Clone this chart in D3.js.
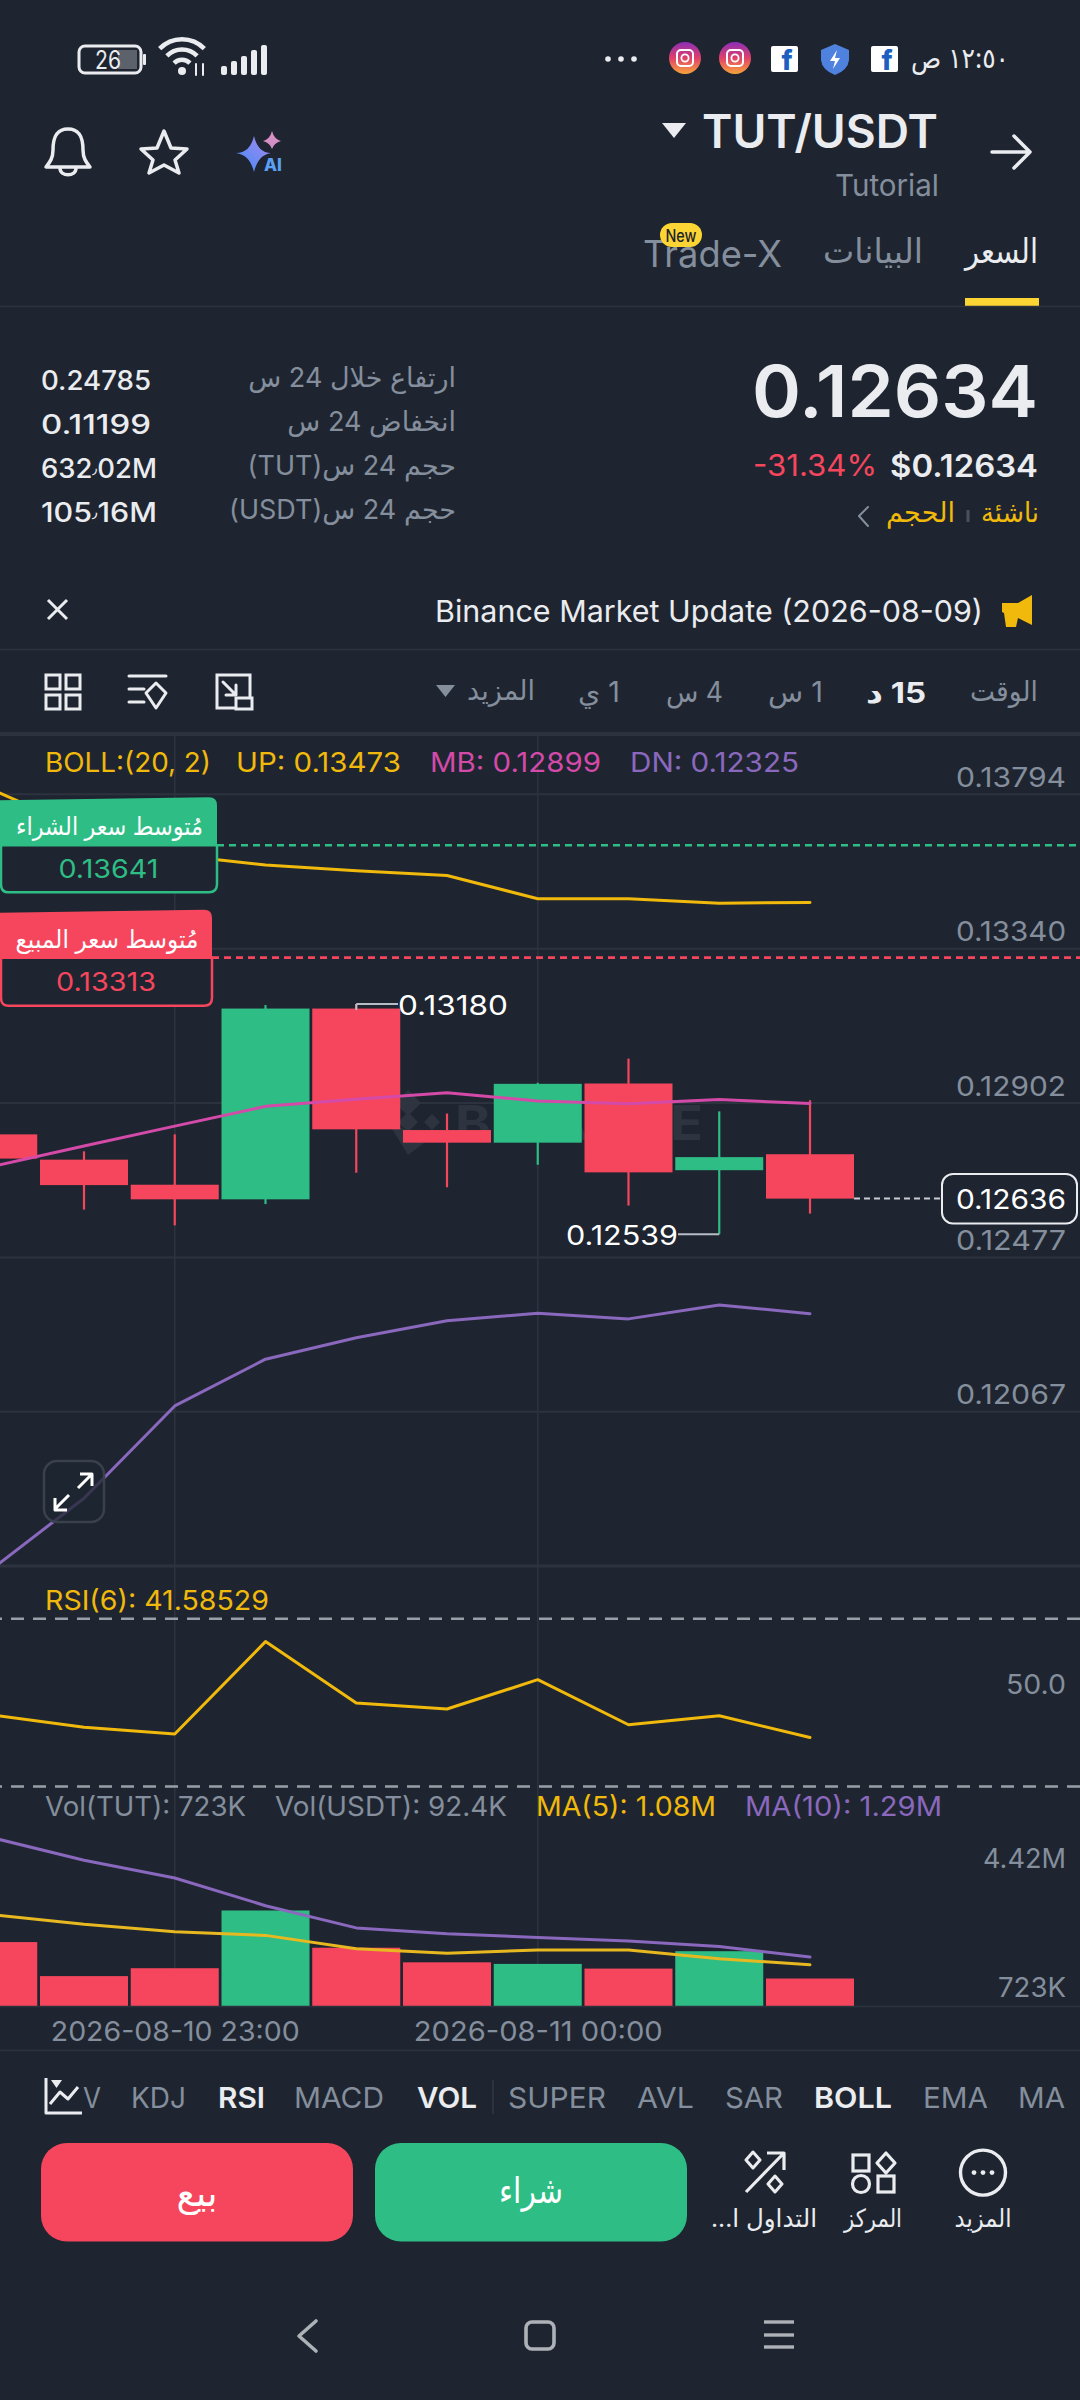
<!DOCTYPE html>
<html><head><meta charset="utf-8">
<script src="https://cdn.jsdelivr.net/npm/d3@7"></script>
<style>
html,body{margin:0;padding:0;background:#1e2530}
svg{display:block}
text{font-family:Inter,"DejaVu Sans",sans-serif}
</style></head><body><svg id="c" width="1080" height="2400" viewBox="0 0 1080 2400"></svg>
<script>
// ---- data ----
const candleTimes=[0,1,2,3,4,5,6,7,8,9].map(i=>new Date(2026,7,10,22,30+15*i));
const opens =[0.12813,0.12743,0.12674,0.12634,0.13167,0.12825,0.12790,0.12955,0.12714,0.12758];
const closes=[0.12746,0.12673,0.12634,0.13167,0.12827,0.12790,0.12954,0.12708,0.12750,0.12636];
const highs =[0.12813,0.12766,0.12813,0.13177,0.13180,0.12871,0.12957,0.13025,0.12877,0.12908];
const lows  =[0.12746,0.12606,0.12563,0.12621,0.12707,0.12667,0.12729,0.12617,0.12539,0.12595];
const bollUp=[0.13805,0.13686,0.13612,0.13583,0.13566,0.13552,0.13484,0.13484,0.13471,0.13473];
const bollMb=[0.12725,0.12781,0.12836,0.12891,0.12911,0.12929,0.12906,0.12898,0.12910,0.12899];
const bollDn=[0.11664,0.11842,0.12081,0.12204,0.12261,0.12306,0.12326,0.12311,0.12348,0.12325];
const rsi6  =[46.9,43.99,42.39,64.44,49.8,48.36,55.36,44.61,46.76,41.58529];
const volumes=[1.674,0.786,0.992,2.499,1.527,1.146,1.104,0.982,1.436,0.723];
const volMa5 =[2.389,2.138,1.943,1.849,1.499,1.384,1.467,1.467,1.240,1.084];
const volMa10=[4.392,3.809,3.347,2.624,2.044,1.890,1.796,1.705,1.559,1.282];
const priceTicks=[0.13794,0.13340,0.12902,0.12477,0.12067];
const timeTicks=[new Date(2026,7,10,23,0),new Date(2026,7,11,0,0)];
const rsiGuides=[70,30];
const avgBuy=0.13641, avgSell=0.13313, lastPrice=0.12636, hiMark=0.13180, loMark=0.12539;
const volTicks=[4.42,0.723];
const statValues=["0.24785","0.11199","632٫02M","105٫16M"];
const statLabels=["ارتفاع خلال 24 س","انخفاض 24 س","حجم 24 س(TUT)","حجم 24 س(USDT)"];
const indicatorNames=["V","KDJ","RSI","MACD","VOL","SUPER","AVL","SAR","BOLL","EMA","MA"];
const indicatorActive=["RSI","VOL","BOLL"];

// ---- palette ----
const BG="#1e2530",GRID="#2c333e",GREY="#848e9c",WHITE="#eaecef",GREEN="#2ebd85",RED="#f6465d",
      YEL="#f0b90b",PINK="#d44aa8",PURP="#8a68bd";
const svg=d3.select("#c");
svg.append("rect").attr("width",1080).attr("height",2400).attr("fill",BG);

function T(g,s,x,y,o={}){
  const t=g.append("text").attr("x",x).attr("y",y).text(s)
    .attr("font-size",o.size||27).attr("fill",o.fill||WHITE)
    .attr("font-weight",o.w||400).attr("text-anchor",o.a||"start")
    .attr("dominant-baseline","central");
  if(o.rtl) t.attr("direction","rtl").attr("text-anchor","start");
  if(o.len) t.attr("textLength",o.len).attr("lengthAdjust","spacingAndGlyphs");
  if(o.op) t.attr("opacity",o.op);
  return t;
}
function L(g,x1,y1,x2,y2,c,w,dash){
  const l=g.append("line").attr("x1",x1).attr("y1",y1).attr("x2",x2).attr("y2",y2).attr("stroke",c).attr("stroke-width",w);
  if(dash) l.attr("stroke-dasharray",dash);
  return l;
}
function P(g,d,o={}){
  return g.append("path").attr("d",d).attr("fill",o.fill||"none").attr("stroke",o.stroke||"none")
    .attr("stroke-width",o.w||0).attr("stroke-linecap",o.cap||"round").attr("stroke-linejoin","round");
}

// ---- scales ----
const x=d3.scaleTime().domain([candleTimes[0],candleTimes[9]]).range([-6.75,810]);
const y=d3.scaleLog().domain([priceTicks[0],priceTicks[4]]).range([793.8,1411.3]);
const yR=d3.scaleLinear().domain([70,30]).range([1618.3,1786]);
const yV=d3.scaleLinear().domain([0,1]).range([2006.2,1967.9]);
const BODY=88;

// ---- status bar ----
const st=svg.append("g");
st.append("rect").attr("x",79).attr("y",46).attr("width",62).attr("height",27).attr("rx",6).attr("fill","none").attr("stroke",WHITE).attr("stroke-width",3);
st.append("rect").attr("x",118).attr("y",50).attr("width",19).attr("height",19).attr("fill","#5b626c");
st.append("rect").attr("x",143).attr("y",54).attr("width",3).attr("height",11).attr("rx",1).attr("fill",WHITE);
T(st,"26",108,60,{size:25,a:"middle",len:26});
[31,21,11].forEach(r=>P(st,`M${182-r*.72} ${71-r*.72} A${r} ${r} 0 0 1 ${182+r*.72} ${71-r*.72}`,{stroke:WHITE,w:4.5,cap:"butt"}));
st.append("circle").attr("cx",182).attr("cy",71).attr("r",4).attr("fill",WHITE);
P(st,"M196 64 L196 75 M203 64 L203 75",{stroke:WHITE,w:2});
[[221,66,9],[231,61,14],[241,56,19],[251,50,25],[261,45,30]].forEach(([a,b,h])=>st.append("rect").attr("x",a).attr("y",b).attr("width",6).attr("height",h).attr("rx",2).attr("fill",WHITE));
[608,621,634].forEach(a=>st.append("circle").attr("cx",a).attr("cy",59).attr("r",2.8).attr("fill",WHITE));
const defs=svg.append("defs");
const ig=defs.append("linearGradient").attr("id","ig").attr("x1",0).attr("y1",0).attr("x2",0).attr("y2",1);
ig.append("stop").attr("offset",0).attr("stop-color","#8a2fb8");ig.append("stop").attr("offset",.5).attr("stop-color","#e0406a");ig.append("stop").attr("offset",1).attr("stop-color","#f7a53a");
[685,735].forEach(a=>{
  st.append("ellipse").attr("cx",a).attr("cy",58).attr("rx",16).attr("ry",16).attr("fill","url(#ig)");
  st.append("rect").attr("x",a-8).attr("y",50).attr("width",16).attr("height",16).attr("rx",4).attr("fill","none").attr("stroke","#fff").attr("stroke-width",2);
  st.append("circle").attr("cx",a).attr("cy",58).attr("r",3.6).attr("fill","none").attr("stroke","#fff").attr("stroke-width",1.8);
});
[771,871].forEach(a=>{
  st.append("rect").attr("x",a).attr("y",46).attr("width",27).attr("height",26).attr("rx",2).attr("fill","#fff");
  T(st,"f",a+16,60,{size:27,fill:"#1c5fc0",w:800,a:"middle"});
});
P(st,"M835 44 L849 50 L849 60 Q848 70 835 75 Q822 70 821 60 L821 50 Z",{fill:"#4f82de"});
P(st,"M837 50 L830 61 L835 61 L833 69 L840 58 L835 58 Z",{fill:"#fff"});
T(st,"١٢:٥٠ ص",1009,58,{size:28,rtl:true,fill:WHITE,len:98});

// ---- header ----
const hd=svg.append("g");
P(hd,"M662 123 L686 123 L674 138 Z",{fill:WHITE});
T(hd,"TUT/USDT",938,131,{size:46,w:600,a:"end",len:236});
P(hd,"M992 152 L1030 152 M1014 136 L1030 152 L1014 168",{stroke:WHITE,w:3.5});
T(hd,"Tutorial",939,185,{size:30,fill:GREY,a:"end",len:104});
P(hd,"M68 129 C55 129 53 140 53 150 C53 158 50 162 46 167 L90 167 C86 162 83 158 83 150 C83 140 81 129 68 129 Z",{stroke:WHITE,w:3.5});
P(hd,"M60 168 C60 177 76 177 76 168",{stroke:WHITE,w:3.5});
P(hd,"M164 131 L171 148 L187 149 L175 160 L179 173 L164 165 L149 173 L153 160 L141 149 L157 148 Z",{stroke:WHITE,w:3.5});
const ai=defs.append("linearGradient").attr("id","ai").attr("x1",0).attr("y1",1).attr("x2",1).attr("y2",0);
ai.append("stop").attr("offset",0).attr("stop-color","#3f8cf5");ai.append("stop").attr("offset",1).attr("stop-color","#a989f0");
P(hd,"M254 136 Q258 153 271 153 Q258 155 254 172 Q250 155 236 153 Q250 153 254 136 Z",{fill:"url(#ai)"});
P(hd,"M272 131 Q274 139 281 141 Q274 143 272 149 Q270 143 263 141 Q270 139 272 131 Z",{fill:"#d48fc4"});
T(hd,"AI",273,165,{size:17,w:800,fill:"#5aa0f5",a:"middle"});
T(hd,"السعر",1038,250,{size:34,rtl:true,fill:WHITE,len:73});
T(hd,"البيانات",923,250,{size:34,rtl:true,fill:GREY,len:100});
T(hd,"Trade-X",782,253,{size:37,a:"end",fill:GREY,len:139});
hd.append("rect").attr("x",660).attr("y",223).attr("width",42).attr("height",24).attr("rx",12).attr("fill","#fcd535");
T(hd,"New",681,236,{size:17,fill:"#1e2329",a:"middle",w:500,len:31});
hd.append("rect").attr("x",965).attr("y",298).attr("width",74).attr("height",8).attr("fill","#fcd535");
L(hd,0,306.5,1080,306.5,GRID,1.5);

// ---- ticker ----
const tk=svg.append("g");
T(tk,"0.12634",1038,390,{size:72,w:600,a:"end",len:286});
T(tk,"-31.34%",877,465,{size:30,a:"end",fill:RED,len:124});
T(tk,"$0.12634",1038,465,{size:31,a:"end",w:600,len:148});
T(tk,"ناشئة",1039,512,{size:28,rtl:true,fill:YEL,len:58});
T(tk,"الحجم",955,512,{size:28,rtl:true,fill:YEL,len:69});
L(tk,968,510,968,522,"#4a515c",3);
P(tk,"M868 507 L859 516 L868 526",{stroke:GREY,w:2});
[380,424,468,512].forEach((yy,i)=>{
  const t=T(tk,"",41,yy,{size:27,w:500,fill:WHITE,len:i<2?110:116});
  statValues[i].split(/(٫)/).forEach(p=>{
    const s=t.append("tspan").text(p);
    if(p==="٫") s.attr("font-size",15);
  });
  T(tk,statLabels[i],456,yy-3,{size:27,rtl:true,fill:GREY});
});

// ---- announcement ----
const an=svg.append("g");
P(an,"M48 600 L67 619 M67 600 L48 619",{stroke:WHITE,w:3,cap:"butt"});
T(an,"Binance Market Update (2026-08-09)",983,611,{size:30,a:"end",len:548});
P(an,"M1032 595 L1032 625 L1018 618 L1016 627 L1006 627 L1004 613 L1002 612 L1002 603 L1018 603 Z",{fill:YEL});
L(an,0,649.5,1080,649.5,GRID,1.5);

// ---- chart toolbar ----
const tb=svg.append("g");
[[46,675],[66,675],[46,695],[66,695]].forEach(([a,b])=>tb.append("rect").attr("x",a).attr("y",b).attr("width",14).attr("height",14).attr("fill","none").attr("stroke",WHITE).attr("stroke-width",3));
P(tb,"M129 676 L166 676 M129 689 L144 689 M129 702 L144 702",{stroke:WHITE,w:3});
P(tb,"M156 683 L166 693 L156 708 L146 693 Z",{stroke:WHITE,w:3});
tb.append("rect").attr("x",217).attr("y",675).attr("width",33).attr("height",33).attr("fill","none").attr("stroke",WHITE).attr("stroke-width",3);
P(tb,"M223 682 L236 695 M236 685 L236 695 L226 695",{stroke:WHITE,w:3});
tb.append("rect").attr("x",236).attr("y",698).attr("width",16).attr("height",11).attr("fill",BG).attr("stroke",WHITE).attr("stroke-width",3);
T(tb,"الوقت",1038,691,{size:28,rtl:true,fill:GREY,len:68});
T(tb,"15 د",926,692,{size:29,rtl:true,w:700,fill:WHITE,len:60});
T(tb,"1 س",823,692,{size:28,rtl:true,fill:GREY,len:55});
T(tb,"4 س",723,692,{size:28,rtl:true,fill:GREY,len:57});
T(tb,"1 ي",620,692,{size:28,rtl:true,fill:GREY,len:42});
T(tb,"المزيد",535,690,{size:28,rtl:true,fill:GREY,len:68});
P(tb,"M436 685 L455 685 L445.5 697 Z",{fill:GREY});
L(tb,0,734,1080,734,GRID,4);

// ---- chart plumbing ----
const clip=defs.append("clipPath").attr("id","pane");
clip.append("rect").attr("x",0).attr("y",734).attr("width",1080).attr("height",832);
const ch=svg.append("g");

// time axis with the vertical grid
const gx=ch.append("g").attr("transform","translate(0,2032)")
  .call(d3.axisBottom(x).tickValues(timeTicks).tickSize(0).tickFormat(d3.timeFormat("%Y-%m-%d %H:%M")));
gx.select(".domain").remove();
gx.selectAll("text").attr("y",0).attr("dy",".35em").attr("font-size",27).attr("fill",GREY).attr("textLength",249).attr("lengthAdjust","spacingAndGlyphs").attr("font-family",'Inter,"DejaVu Sans"');
timeTicks.forEach(t=>L(ch,x(t),734,x(t),2006,GRID,1.5));

// price axis
const gy=ch.append("g").attr("transform","translate(1080,0)")
  .call(d3.axisLeft(y).tickValues(priceTicks).tickSize(1080).tickFormat(d3.format(".5f")));
gy.select(".domain").remove();
gy.selectAll("line").attr("stroke",GRID).attr("stroke-width",2);
gy.selectAll("text").attr("x",-14).attr("y",-16).attr("font-size",27).attr("fill",GREY).attr("text-anchor","end").attr("font-family",'Inter,"DejaVu Sans"')
  .attr("textLength",110).attr("lengthAdjust","spacingAndGlyphs");
L(ch,0,1566,1080,1566,GRID,3);

// watermark
const wm=ch.append("g").attr("opacity",.9);
P(wm,"M408 1090 L421 1103 L408 1116 L395 1103 Z M408 1112 L418 1122 L408 1132 L398 1122 Z M432 1114 L440 1122 L432 1130 L424 1122 Z M388 1122 L408 1155 L428 1140",{fill:"#2f3641"});
T(wm,"BINANCE",455,1122,{size:48,w:700,fill:"#2f3641",len:248});

// candles
const idx=d3.range(candleTimes.length);
const cg=ch.append("g");
cg.selectAll("line.w").data(idx).join("line").attr("class","w")
  .attr("x1",i=>x(candleTimes[i])).attr("x2",i=>x(candleTimes[i]))
  .attr("y1",i=>y(highs[i])).attr("y2",i=>y(lows[i]))
  .attr("stroke",i=>closes[i]>=opens[i]?GREEN:RED).attr("stroke-width",2.2);
cg.selectAll("rect").data(idx).join("rect")
  .attr("x",i=>x(candleTimes[i])-BODY/2).attr("width",BODY)
  .attr("y",i=>y(Math.max(opens[i],closes[i])))
  .attr("height",i=>Math.abs(y(opens[i])-y(closes[i])))
  .attr("fill",i=>closes[i]>=opens[i]?GREEN:RED);

// Bollinger
const line=(arr,ys)=>d3.line().x((d,i)=>x(candleTimes[i])).y(d=>ys(d))(arr);
const boll=ch.append("g").attr("clip-path","url(#pane)");
[[bollUp,YEL],[bollMb,PINK],[bollDn,PURP]].forEach(([a,c])=>P(boll,line(a,y),{stroke:c,w:3}));

// avg lines
L(ch,217,y(avgBuy),1080,y(avgBuy),GREEN,2.6,"7 5");
L(ch,212,y(avgSell),1080,y(avgSell),RED,2.6,"7 5");
const f5=d3.format(".5f");
function tag(x2,yMid,title,val,c,topH,botH,tLen){
  const g=ch.append("g");
  const top=yMid-topH, bot=yMid+botH;
  g.append("path").attr("d",`M0 ${yMid} L${x2} ${yMid} L${x2} ${bot-8} Q${x2} ${bot} ${x2-8} ${bot} L8 ${bot} Q1 ${bot} 1 ${bot-8} L1 ${yMid}`)
    .attr("fill",BG).attr("stroke",c).attr("stroke-width",2.5);
  g.append("path").attr("d",`M0 ${top+3} L${x2-8} ${top} Q${x2} ${top} ${x2} ${top+8} L${x2} ${yMid} L0 ${yMid} Z`).attr("fill",c);
  T(g,title,(x2+2)/2,(top+yMid)/2+5,{size:25,a:"middle",fill:"#fff",len:tLen});
  T(g,val,x2/2,(yMid+bot)/2,{size:26,a:"middle",fill:c,len:100});
}
tag(217,y(avgBuy),"مُتوسط سعر الشراء",f5(avgBuy),GREEN,48,47,187);
tag(212,y(avgSell),"مُتوسط سعر المبيع",f5(avgSell),RED,48,48,183);

// high / low markers
const iHi=highs.indexOf(hiMark), iLo=lows.indexOf(loMark);
L(ch,x(candleTimes[iHi]),y(hiMark),398,y(hiMark),"#b7bdc6",2);
L(ch,x(candleTimes[iHi]),y(hiMark),x(candleTimes[iHi]),y(hiMark)+6,"#b7bdc6",2);
T(ch,f5(hiMark),398,y(hiMark)+1,{size:27,fill:"#fff",len:110});
L(ch,678,y(loMark),x(candleTimes[iLo]),y(loMark),"#b7bdc6",2);
T(ch,f5(loMark),678,y(loMark)+1,{size:27,a:"end",fill:"#fff",len:112});

// last price
L(ch,854,y(lastPrice),941,y(lastPrice),"#c8ccd2",2,"6 4");
ch.append("rect").attr("x",942).attr("y",1174).attr("width",135).attr("height",49.5).attr("rx",11).attr("fill",BG).attr("stroke",WHITE).attr("stroke-width",2);
T(ch,f5(lastPrice),1066,1199,{size:27,a:"end",fill:"#fff",len:110});

// legend of the price pane
T(ch,"BOLL:(20, 2)",45,762,{fill:YEL,len:166});
T(ch,"UP: "+f5(bollUp[9]),236,762,{fill:YEL,len:165});
T(ch,"MB: "+f5(bollMb[9]),430,762,{fill:PINK,len:171});
T(ch,"DN: "+f5(bollDn[9]),630,762,{fill:PURP,len:169});

// expand button
ch.append("rect").attr("x",44).attr("y",1461).attr("width",60).attr("height",61).attr("rx",13).attr("fill",BG).attr("fill-opacity",.75).attr("stroke","#3a414c").attr("stroke-width",2.5);
P(ch,"M78 1488 L91 1475 M80 1474 L92 1474 L92 1486 M69 1495 L56 1508 M55 1498 L55 1510 L67 1510",{stroke:"#fff",w:3,cap:"butt"});

// ---- RSI ----
const rs=svg.append("g");
const gr=rs.append("g").attr("transform","translate(1080,0)")
  .call(d3.axisLeft(yR).tickValues(rsiGuides).tickSize(1080).tickFormat(""));
gr.select(".domain").remove();
gr.selectAll("line").attr("stroke","#9a9ea6").attr("stroke-width",2.6).attr("stroke-dasharray","13 9");
T(rs,"RSI(6): "+rsi6[9].toFixed(5),45,1600,{fill:YEL,len:224});
P(rs,line(rsi6,yR),{stroke:YEL,w:3});
T(rs,"50.0",1066,yR(50)-18,{a:"end",fill:GREY,len:60});

// ---- volume ----
const vg=svg.append("g");
T(vg,"Vol(TUT): 723K",45,1806,{fill:GREY,len:201});
T(vg,"Vol(USDT): 92.4K",275,1806,{fill:GREY,len:232});
T(vg,"MA(5): 1.08M",536,1806,{fill:YEL,len:180});
T(vg,"MA(10): 1.29M",745,1806,{fill:PURP,len:197});
vg.selectAll("rect").data(idx).join("rect")
  .attr("x",i=>x(candleTimes[i])-BODY/2).attr("width",BODY)
  .attr("y",i=>yV(volumes[i])).attr("height",i=>yV(0)-yV(volumes[i]))
  .attr("fill",i=>closes[i]>=opens[i]?GREEN:RED);
P(vg,line(volMa10,yV),{stroke:PURP,w:3});
P(vg,line(volMa5,yV),{stroke:"#e8b820",w:3});
const gv=vg.append("g").attr("transform","translate(1066,0)")
  .call(d3.axisLeft(yV).tickValues(volTicks).tickSize(0).tickFormat(d=>d>=1?d3.format(".2f")(d)+"M":Math.round(d*1000)+"K"));
gv.select(".domain").remove();
gv.selectAll("text").attr("x",0).attr("font-size",27).attr("fill",GREY).attr("text-anchor","end").attr("font-family",'Inter,"DejaVu Sans"')
  .attr("y",d=>d>=1?22:9.5).attr("textLength",d=>d>=1?83:68).attr("lengthAdjust","spacingAndGlyphs");
L(vg,0,2006.5,1080,2006.5,GRID,1.5);
L(vg,0,2050.5,1080,2050.5,GRID,1.5);

// ---- indicator strip ----
const ind=svg.append("g");
P(ind,"M46 2078 L46 2113 L82 2113 M50 2104 L60 2092 L68 2099 L78 2087",{stroke:WHITE,w:3,cap:"butt"});
P(ind,"M51 2080 L62 2080 L56.5 2088 Z",{fill:WHITE});
const indX=[92,158.5,241.5,339,447,557,665.5,754,853,955.5,1041.5];
const indW=[18,55,47,90,60,98,57,58,78,65,47];
indicatorNames.forEach((n,i)=>{
  const on=indicatorActive.includes(n);
  T(ind,n,indX[i],2097,{size:29,a:"middle",w:on?600:400,fill:on?WHITE:GREY,len:indW[i]});
});
L(ind,493,2080,493,2114,GRID,2);

// ---- bottom actions ----
const ac=svg.append("g");
ac.append("rect").attr("x",41).attr("y",2143).attr("width",312).attr("height",98.5).attr("rx",26).attr("fill",RED);
ac.append("rect").attr("x",375).attr("y",2143).attr("width",312).attr("height",98.5).attr("rx",26).attr("fill",GREEN);
T(ac,"بيع",197,2192,{size:38,a:"middle",fill:"#fff",len:41});
T(ac,"شراء",531,2190,{size:36,a:"middle",fill:"#fff",len:64});
P(ac,"M746 2192 L783 2154 M767 2153 L784 2153 L784 2170",{stroke:WHITE,w:3.2,cap:"butt"});
P(ac,"M753 2152 L760 2160 L753 2168 L746 2160 Z M775 2176 L782 2184 L775 2192 L768 2184 Z",{stroke:WHITE,w:3});
ac.append("rect").attr("x",853).attr("y",2155).attr("width",16).attr("height",16).attr("fill","none").attr("stroke",WHITE).attr("stroke-width",3.2);
P(ac,"M886 2153 L895 2163 L886 2173 L877 2163 Z",{stroke:WHITE,w:3.2});
ac.append("circle").attr("cx",861).attr("cy",2184).attr("r",8.5).attr("fill","none").attr("stroke",WHITE).attr("stroke-width",3.2);
ac.append("rect").attr("x",878).attr("y",2176).attr("width",16).attr("height",16).attr("fill","none").attr("stroke",WHITE).attr("stroke-width",3.2);
ac.append("circle").attr("cx",983).attr("cy",2172.6).attr("r",22.5).attr("fill","none").attr("stroke",WHITE).attr("stroke-width",3.4);
[974,983,992].forEach(a=>ac.append("circle").attr("cx",a).attr("cy",2172.6).attr("r",2.4).attr("fill",WHITE));
T(ac,"التداول ا...",817,2218,{size:25,rtl:true,fill:WHITE,len:106});
T(ac,"المركز",873,2218,{size:25,a:"middle",fill:WHITE,len:58});
T(ac,"المزيد",983,2218,{size:25,a:"middle",fill:WHITE,len:57});

// ---- navigation bar ----
const nv=svg.append("g");
P(nv,"M316 2321 L299 2336 L316 2351",{stroke:"#aeb2b8",w:3.6,cap:"round"});
nv.append("rect").attr("x",526).attr("y",2322).attr("width",28).attr("height",27).attr("rx",6).attr("fill","none").attr("stroke","#aeb2b8").attr("stroke-width",3.6);
[2322,2335,2347].forEach(a=>L(nv,764,a,794,a,"#aeb2b8",3.4));
</script></body></html>
